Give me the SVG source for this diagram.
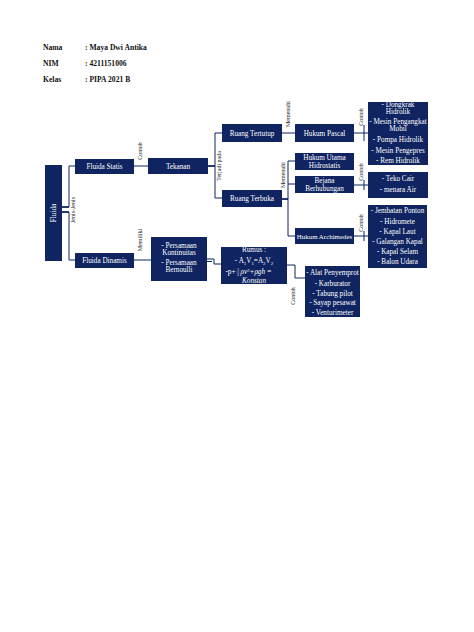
<svg xmlns="http://www.w3.org/2000/svg" width="474" height="632" viewBox="0 0 474 632">
<style>
.b{fill:#0f2461}
.t{font-family:"Liberation Serif",serif;font-size:7.2px;fill:#fff;text-anchor:middle}
.h{font-family:"Liberation Serif",serif;font-size:7.6px;font-weight:bold;fill:#111}
.l{font-family:"Liberation Serif",serif;font-size:6px;fill:#222;text-anchor:middle}
.c line,.c polyline{stroke:#0f2461;stroke-width:1;fill:none}
.c .k{stroke-width:1.8}
</style>
<rect width="474" height="632" fill="#fff"/>
<g id="header">
<text class="h" x="43" y="50">Nama</text><text class="h" x="85" y="50">: Maya Dwi Antika</text>
<text class="h" x="43" y="66">NIM</text><text class="h" x="85" y="66">: 4211151006</text>
<text class="h" x="43" y="82">Kelas</text><text class="h" x="85" y="82">: PIPA 2021 B</text>
</g>
<g class="c" id="connectors">
<line class="k" x1="62" y1="207" x2="69" y2="207"/>
<polyline points="75,166 69,166 69,207"/>
<line class="k" x1="62" y1="212" x2="69" y2="212"/>
<polyline points="69,212 69,260 75,260"/>
<line x1="134" y1="166" x2="148" y2="166"/>
<line x1="134" y1="260" x2="151" y2="260"/>
<line class="k" x1="208" y1="166" x2="215" y2="166"/>
<polyline points="222,133 215,133 215,198 222,198"/>
<line x1="282" y1="133" x2="295" y2="133"/>
<line class="k" x1="282" y1="199" x2="288" y2="199"/>
<polyline points="295,161 288,161 288,236 295,236"/>
<line x1="288" y1="184" x2="295" y2="184"/>
<line x1="354" y1="133" x2="368" y2="133"/>
<line x1="364" y1="125" x2="364" y2="141"/>
<line x1="354" y1="185" x2="368" y2="185"/>
<line x1="364" y1="180" x2="364" y2="190"/>
<line x1="354" y1="236" x2="368" y2="236"/>
<line x1="364" y1="231" x2="364" y2="241"/>
<line x1="207" y1="259" x2="214" y2="259"/>
<line x1="207" y1="261.5" x2="212" y2="261.5"/>
<polyline points="214,259 214,264 221,264"/>
<polyline points="287,265 295,265 295,278 305,278"/>
</g>
<g id="labels">
<text class="l" transform="translate(75,210) rotate(-90)">Jenis-Jenis</text>
<text class="l" transform="translate(142,151) rotate(-90)">Contoh</text>
<text class="l" transform="translate(142,240) rotate(-90)">Memiliki</text>
<text class="l" transform="translate(221,166) rotate(-90)">Terjadi pada</text>
<text class="l" transform="translate(290,114) rotate(-90)">Memenuhi</text>
<text class="l" transform="translate(285,175) rotate(-90)">Memenuhi</text>
<text class="l" transform="translate(363,117) rotate(-90)">Contoh</text>
<text class="l" transform="translate(363,172) rotate(-90)">Contoh</text>
<text class="l" transform="translate(363,223) rotate(-90)">Contoh</text>
<text class="l" transform="translate(295,296) rotate(-90)">Contoh</text>
</g>
<g id="fluida"><rect class="b" x="45" y="165" width="17" height="96"/><text class="t" transform="translate(55.5,213) rotate(-90)">Fluida</text></g>
<g id="fluida-statis"><rect class="b" x="75" y="159" width="59" height="15"/><text class="t" x="104.5" y="169">Fluida  Statis</text></g>
<g id="fluida-dinamis"><rect class="b" x="75" y="253" width="59" height="15"/><text class="t" x="104.5" y="263">Fluida Dinamis</text></g>
<g id="tekanan"><rect class="b" x="148" y="158" width="60" height="16"/><text class="t" x="178" y="168.5">Tekanan</text></g>
<g id="ruang-tertutup"><rect class="b" x="222" y="124" width="60" height="18"/><text class="t" x="252" y="135.5">Ruang Tertutup</text></g>
<g id="ruang-terbuka"><rect class="b" x="222" y="190" width="60" height="17"/><text class="t" x="252" y="201">Ruang Terbuka</text></g>
<g id="hukum-pascal"><rect class="b" x="295" y="124" width="59" height="18"/><text class="t" x="324.5" y="135.5">Hukum Pascal</text></g>
<g id="hukum-utama"><rect class="b" x="295" y="153" width="59" height="17"/><text class="t" x="324.5" y="160">Hukum Utama</text><text class="t" x="324.5" y="167.5">Hidrostatis</text></g>
<g id="bejana"><rect class="b" x="295" y="176" width="59" height="17"/><text class="t" x="324.5" y="183">Bejana</text><text class="t" x="324.5" y="190.5">Berhubungan</text></g>
<g id="hukum-archimedes"><rect class="b" x="295" y="228" width="59" height="16"/><text class="t" x="324.5" y="238.5" style="font-size:6.9px">Hukum Archimedes</text></g>
<g id="contoh-pascal"><rect class="b" x="368" y="102" width="60" height="63"/>
<text class="t" x="398" y="107">-  Dongkrak</text><text class="t" x="398" y="114">Hidrolik</text>
<text class="t" x="398" y="124">-  Mesin Pengangkat</text><text class="t" x="398" y="131">Mobil</text>
<text class="t" x="398" y="142">-  Pompa Hidrolik</text>
<text class="t" x="398" y="153">-  Mesin Pengepres</text>
<text class="t" x="398" y="163">-  Rem Hidrolik</text></g>
<g id="contoh-bejana"><rect class="b" x="368" y="172" width="60" height="26"/>
<text class="t" x="398" y="180.5">-  Teko Cair</text><text class="t" x="398" y="191.5">- menara Air</text></g>
<g id="contoh-archimedes"><rect class="b" x="368" y="205" width="59" height="63"/>
<text class="t" x="397.5" y="213">- Jembatan Ponton</text>
<text class="t" x="397.5" y="223.5">- Hidromete</text>
<text class="t" x="397.5" y="233.5">- Kapal Laut</text>
<text class="t" x="397.5" y="244">- Galangan Kapal</text>
<text class="t" x="397.5" y="254">- Kapal Selam</text>
<text class="t" x="397.5" y="264">- Balon Udara</text></g>
<g id="persamaan"><rect class="b" x="151" y="237" width="56" height="44"/>
<text class="t" x="179" y="248">-  Persamaan</text><text class="t" x="179" y="255">Kontinuitas</text>
<text class="t" x="179" y="265">-  Persamaan</text><text class="t" x="179" y="272">Bernoulli</text></g>
<g id="rumus"><rect class="b" x="221" y="247" width="66" height="37"/>
<text class="t" x="254" y="251.5">Rumus :</text>
<text class="t" x="254" y="263">- A<tspan font-size="4.8" dy="1.5">1</tspan><tspan dy="-1.5">V</tspan><tspan font-size="4.8" dy="1.5">1</tspan><tspan dy="-1.5">=A</tspan><tspan font-size="4.8" dy="1.5">2</tspan><tspan dy="-1.5">V</tspan><tspan font-size="4.8" dy="1.5">2</tspan></text>
<text class="t" x="235.5" y="274" style="text-anchor:end">-p+</text>
<text class="t" x="238" y="271" style="font-size:4.2px">1</text>
<line x1="236.5" y1="272" x2="239.5" y2="272" stroke="#fff" stroke-width="0.4"/>
<text class="t" x="238" y="275.6" style="font-size:4.2px">2</text>
<text class="t" x="240.5" y="274" style="text-anchor:start;font-style:italic">ρv<tspan font-size="4.8" dy="-2">2</tspan><tspan dy="2">+ρgh =</tspan></text>
<text class="t" x="254" y="283" style="font-style:italic">Konstan</text></g>
<g id="contoh-bernoulli"><rect class="b" x="305" y="266" width="55" height="51"/>
<text class="t" x="332.5" y="275">- Alat Penyemprot</text>
<text class="t" x="332.5" y="285.5">- Karburator</text>
<text class="t" x="332.5" y="295.5">- Tabung pilot</text>
<text class="t" x="332.5" y="305">- Sayap pesawat</text>
<text class="t" x="332.5" y="315">- Venturimeter</text></g>
</svg>
